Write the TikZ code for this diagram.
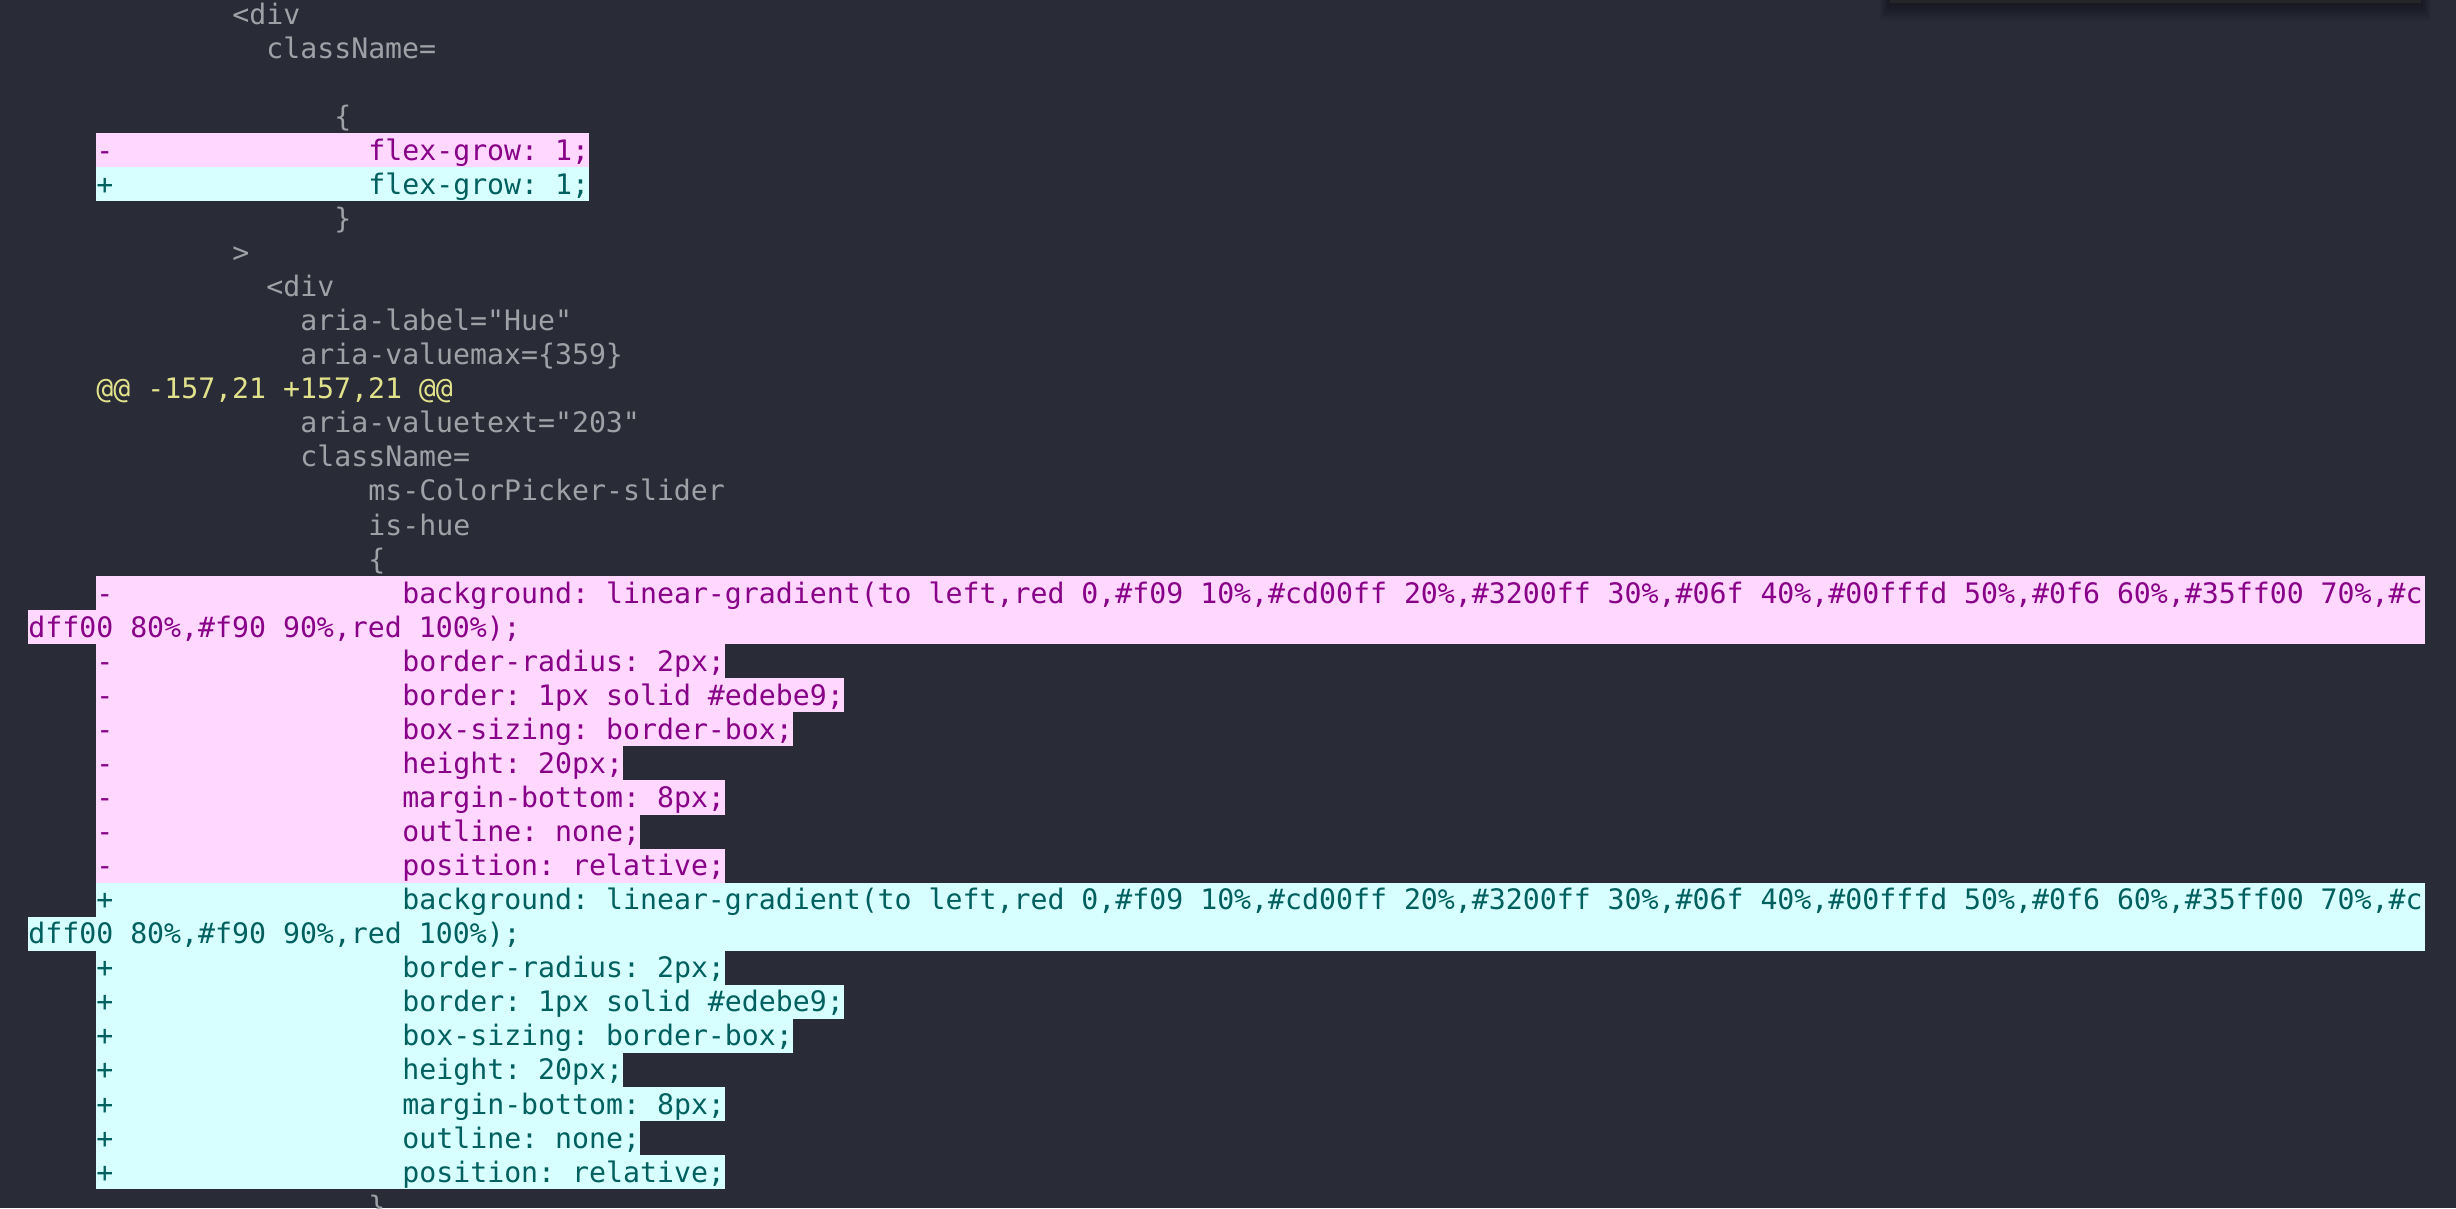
\documentclass[tikz,border=0pt]{standalone}
\usepackage{fontspec}
\setmonofont{DejaVu Sans Mono}
\definecolor{bg}{HTML}{292B36}
\definecolor{gr}{HTML}{A0A1A7}
\definecolor{pk}{HTML}{FFD7FF}
\definecolor{pkt}{HTML}{870087}
\definecolor{cy}{HTML}{D7FFFF}
\definecolor{cyt}{HTML}{005F5F}
\definecolor{yl}{HTML}{E2E28C}
\definecolor{pan}{HTML}{262629}
\tikzset{code/.style={inner sep=0pt,anchor=base west,font=\ttfamily\fontsize{28.2pt}{34pt}\selectfont}}
\newcommand\cl[4]{\node[code,text=#3] (n#1x#2) at ({28.2+17*#2},{14.1+34.06*(#1-1)+10}) {#4};}
\newcommand\band[4]{\fill[#4] ({28.2+17*#2},{14.1+34.06*(#1-1)-17.03}) rectangle ({28.2+17*#3},{14.1+34.06*(#1-1)+17.03});}
\begin{document}
\begin{tikzpicture}[x=1pt,y=-1pt]
\fill[bg] (0,0) rectangle (2456,1208);
\useasboundingbox (0,0) rectangle (2456,1208);
% top-right panel edge with shadow
\foreach \i in {1,...,10}{\fill[black,opacity=0.035] ({1890-\i},0) rectangle ({2421+\i},{3+1.8*\i});}
\fill[pan] (1890,0) rectangle (2421,3);
% bands
\band{5}{4}{33}{pk}
\band{6}{4}{33}{cy}
\band{18}{4}{141}{pk}
\band{19}{0}{141}{pk}
\band{20}{4}{41}{pk}
\band{21}{4}{48}{pk}
\band{22}{4}{45}{pk}
\band{23}{4}{35}{pk}
\band{24}{4}{41}{pk}
\band{25}{4}{36}{pk}
\band{26}{4}{41}{pk}
\band{27}{4}{141}{cy}
\band{28}{0}{141}{cy}
\band{29}{4}{41}{cy}
\band{30}{4}{48}{cy}
\band{31}{4}{45}{cy}
\band{32}{4}{35}{cy}
\band{33}{4}{41}{cy}
\band{34}{4}{36}{cy}
\band{35}{4}{41}{cy}
% text
\cl{1}{12}{gr}{<div}
\cl{2}{14}{gr}{className=}
\cl{4}{18}{gr}{\{}
\cl{5}{4}{pkt}{-}
\cl{5}{20}{pkt}{flex-grow: 1;}
\cl{6}{4}{cyt}{+}
\cl{6}{20}{cyt}{flex-grow: 1;}
\cl{7}{18}{gr}{\}}
\cl{8}{12}{gr}{>}
\cl{9}{14}{gr}{<div}
\cl{10}{16}{gr}{aria-label="Hue"}
\cl{11}{16}{gr}{aria-valuemax=\{359\}}
\cl{12}{4}{yl}{@@ -157,21 +157,21 @@}
\cl{13}{16}{gr}{aria-valuetext="203"}
\cl{14}{16}{gr}{className=}
\cl{15}{20}{gr}{ms-ColorPicker-slider}
\cl{16}{20}{gr}{is-hue}
\cl{17}{20}{gr}{\{}
\newcommand\bgA{background: linear-gradient(to left,red 0,\#f09 10\%,\#cd00ff 20\%,\#3200ff 30\%,\#06f 40\%,\#00fffd 50\%,\#0f6 60\%,\#35ff00 70\%,\#c}
\newcommand\bgB{dff00 80\%,\#f90 90\%,red 100\%);}
\cl{18}{4}{pkt}{-}
\cl{18}{22}{pkt}{\bgA}
\cl{19}{0}{pkt}{\bgB}
\cl{20}{4}{pkt}{-}\cl{20}{22}{pkt}{border-radius: 2px;}
\cl{21}{4}{pkt}{-}\cl{21}{22}{pkt}{border: 1px solid \#edebe9;}
\cl{22}{4}{pkt}{-}\cl{22}{22}{pkt}{box-sizing: border-box;}
\cl{23}{4}{pkt}{-}\cl{23}{22}{pkt}{height: 20px;}
\cl{24}{4}{pkt}{-}\cl{24}{22}{pkt}{margin-bottom: 8px;}
\cl{25}{4}{pkt}{-}\cl{25}{22}{pkt}{outline: none;}
\cl{26}{4}{pkt}{-}\cl{26}{22}{pkt}{position: relative;}
\cl{27}{4}{cyt}{+}
\cl{27}{22}{cyt}{\bgA}
\cl{28}{0}{cyt}{\bgB}
\cl{29}{4}{cyt}{+}\cl{29}{22}{cyt}{border-radius: 2px;}
\cl{30}{4}{cyt}{+}\cl{30}{22}{cyt}{border: 1px solid \#edebe9;}
\cl{31}{4}{cyt}{+}\cl{31}{22}{cyt}{box-sizing: border-box;}
\cl{32}{4}{cyt}{+}\cl{32}{22}{cyt}{height: 20px;}
\cl{33}{4}{cyt}{+}\cl{33}{22}{cyt}{margin-bottom: 8px;}
\cl{34}{4}{cyt}{+}\cl{34}{22}{cyt}{outline: none;}
\cl{35}{4}{cyt}{+}\cl{35}{22}{cyt}{position: relative;}
\cl{36}{20}{gr}{\}}
\end{tikzpicture}
\end{document}
